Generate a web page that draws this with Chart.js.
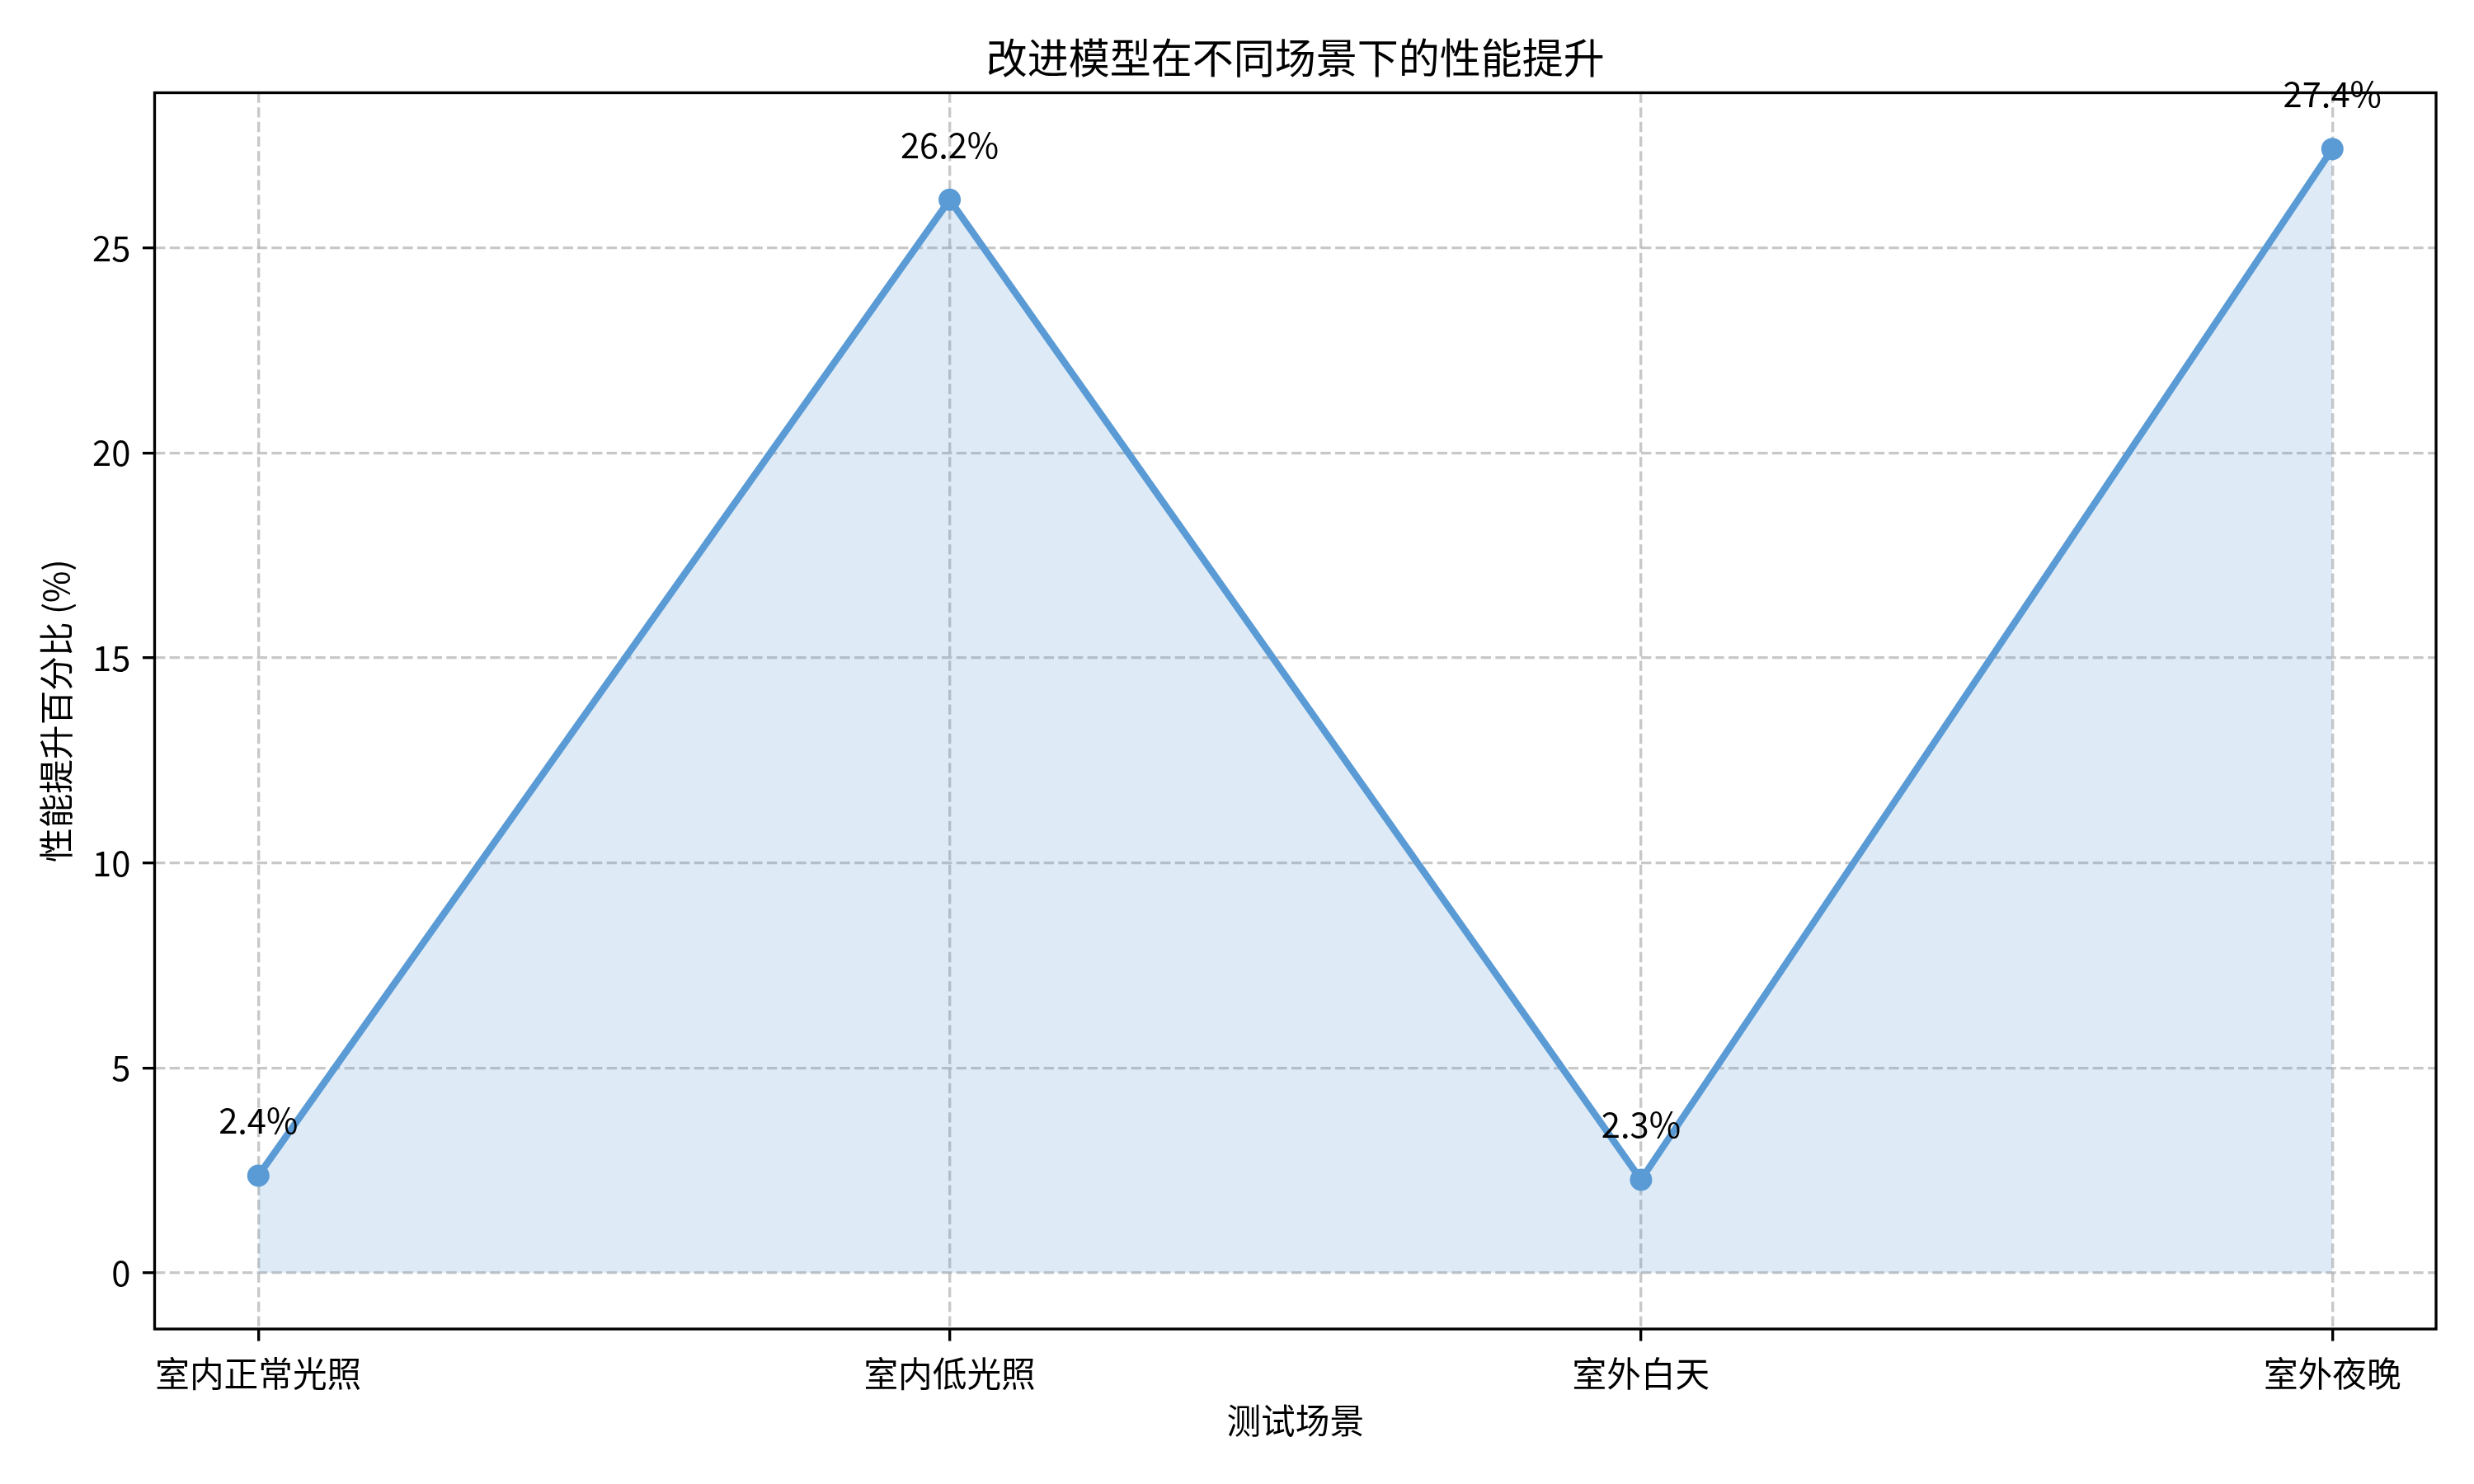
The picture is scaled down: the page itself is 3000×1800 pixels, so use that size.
<!DOCTYPE html>
<html>
<head>
<meta charset="utf-8">
<script src="https://cdn.jsdelivr.net/npm/chart.js@4.4.1/dist/chart.umd.min.js"></script>
<style>
  html, body { margin: 0; padding: 0; background: #ffffff; }
  #wrap { width: 3000px; height: 1800px; }
</style>
</head>
<body>
<div id="wrap"><canvas id="c" width="3000" height="1800"></canvas></div>
<script>
const categories = ['室内正常光照', '室内低光照', '室外白天', '室外夜晚'];
const improvement = [2.37, 26.18, 2.27, 27.42];
const yTicks = [0, 5, 10, 15, 20, 25];
const xTicks = [0, 1, 2, 3];
const chartTitle = '改进模型在不同场景下的性能提升';

const FONT = '"Noto Sans CJK SC", "Noto Sans", "DejaVu Sans", sans-serif';
const PT = 300 / 72;
const LINE = '#5B9BD5';
const DASH = [3.7 * 0.8 * PT, 1.6 * 0.8 * PT];

const points = categories.map((c, i) => ({ x: i, y: improvement[i] }));

const framePlugin = {
  id: 'frame',
  afterDatasetsDraw(chart) {
    const { ctx, chartArea: a } = chart;
    ctx.save();
    ctx.strokeStyle = '#000000';
    ctx.lineWidth = 0.8 * PT;
    ctx.strokeRect(a.left, a.top, a.right - a.left, a.bottom - a.top);
    ctx.restore();
  }
};

const labelPlugin = {
  id: 'valueLabels',
  afterDraw(chart) {
    const { ctx, chartArea: a } = chart;
    const meta = chart.getDatasetMeta(0);
    ctx.save();
    ctx.fillStyle = '#000000';
    ctx.font = `${10 * PT}px ${FONT}`;
    ctx.textAlign = 'center';
    ctx.textBaseline = 'alphabetic';
    meta.data.forEach((el, i) => {
      ctx.fillText(improvement[i].toFixed(1) + '%', el.x, el.y - 10 * PT - 9);
    });
    ctx.font = `${12 * PT}px ${FONT}`;
    ctx.textBaseline = 'middle';
    ctx.fillText(chartTitle, (a.left + a.right) / 2, 70);
    ctx.restore();
  }
};

new Chart(document.getElementById('c'), {
  type: 'line',
  data: {
    datasets: [{
      data: points,
      borderColor: LINE,
      backgroundColor: 'rgba(91,155,213,0.2)',
      borderWidth: 2 * PT,
      fill: 'origin',
      tension: 0,
      pointRadius: 13.5,
      pointHoverRadius: 13.5,
      pointBackgroundColor: LINE,
      pointBorderWidth: 0,
      clip: false
    }]
  },
  options: {
    responsive: false,
    animation: false,
    devicePixelRatio: 1,
    layout: { padding: { left: 0, right: 46, top: 112.5, bottom: 0 } },
    plugins: {
      legend: { display: false },
      tooltip: { enabled: false },
      title: { display: false }
    },
    scales: {
      x: {
        type: 'linear',
        min: -0.15,
        max: 3.15,
        afterBuildTicks(scale) { scale.ticks = xTicks.map(v => ({ value: v })); },
        afterFit(scale) { scale.height = 188; },
        ticks: {
          autoSkip: false,
          maxRotation: 0,
          color: '#000000',
          padding: 3.5 * PT,
          font: { family: FONT, size: 10 * PT },
          callback: (v) => categories[v]
        },
        grid: {
          color: 'rgba(176,176,176,0.7)',
          lineWidth: 0.8 * PT,
          drawTicks: true,
          tickLength: 3.5 * PT,
          tickColor: '#000000',
          tickWidth: 0.8 * PT,
          tickBorderDash: []
        },
        border: { display: false, dash: DASH },
        title: {
          display: true,
          text: '测试场景',
          color: '#000000',
          font: { family: FONT, size: 10 * PT },
          padding: { top: 0, bottom: 52 }
        }
      },
      y: {
        type: 'linear',
        min: -1.371,
        max: 28.791,
        afterBuildTicks(scale) { scale.ticks = yTicks.map(v => ({ value: v })); },
        afterFit(scale) { scale.width = 187.5; },
        ticks: {
          color: '#000000',
          padding: 3.5 * PT,
          font: { family: FONT, size: 10 * PT },
          callback: (v) => String(v)
        },
        grid: {
          color: 'rgba(176,176,176,0.7)',
          lineWidth: 0.8 * PT,
          drawTicks: true,
          tickLength: 3.5 * PT,
          tickColor: '#000000',
          tickWidth: 0.8 * PT,
          tickBorderDash: []
        },
        border: { display: false, dash: DASH },
        title: {
          display: true,
          text: '性能提升百分比 (%)',
          color: '#000000',
          font: { family: FONT, size: 10 * PT },
          padding: { top: 43, bottom: 0 }
        }
      }
    }
  },
  plugins: [framePlugin, labelPlugin]
});
</script>
</body>
</html>
